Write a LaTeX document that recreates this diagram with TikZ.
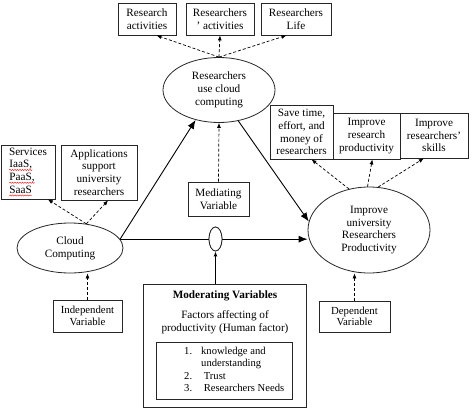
\documentclass[tikz,border=0pt]{standalone}
\usepackage{fontspec}
\setmainfont{Liberation Serif}
\usetikzlibrary{shapes.geometric, arrows.meta, decorations.pathmorphing}
\newcommand{\redwave}[1]{\tikz[baseline=(w.base), x=1pt, y=1pt]{%
  \node [inner sep=0pt, minimum width=0pt, minimum height=0pt, draw=none, fill=none, rectangle] (w) {#1};
  \draw [red, line width=0.4pt, solid, decorate, decoration={snake, amplitude=0.6pt, segment length=2.5pt}]
    ([yshift=-2pt]w.base west) -- ([yshift=-2pt]w.base east);}}

\begin{document}
\begin{tikzpicture}[x=1pt, y=-1pt,
    every node/.style={font=\fontsize{11.2}{12.8}\selectfont, inner sep=1pt},
    box/.style={draw=black!85, line width=0.8pt, rectangle, align=center},
    ell/.style={draw=black!85, line width=0.8pt, ellipse, align=center, fill=white},
    dasharrow/.style={dash pattern=on 3pt off 2pt, line width=0.7pt, -{Latex[length=5pt,width=4pt]}},
    solidarrow/.style={line width=0.9pt, -{Latex[length=9pt,width=7pt]}}]
  \useasboundingbox (0,0) rectangle (474,410);
  % top boxes
  \node [box, minimum width=58pt, minimum height=32pt] (ra) at (147,19) {Research\\activities};
  \node [box, minimum width=68pt, minimum height=32pt] (rb) at (220,19) {Researchers\\' activities};
  \node [box, minimum width=70pt, minimum height=32pt] (rl) at (296,19) {Researchers\\Life};
  \node [ell, minimum width=112pt, minimum height=65pt] (ruc) at (219,90) {Researchers\\use cloud\\computing};
  % right boxes
  \node [box, minimum width=63pt, minimum height=54pt] (save) at (301.5,132) {Save time,\\effort, and\\money of\\researchers};
  \node [box, minimum width=67pt, minimum height=46pt] (irp) at (366.5,136) {Improve\\research\\productivity};
  \node [box, minimum width=68pt, minimum height=45pt] (irs) at (434,135.5) {Improve\\researchers'\\skills};
  \node [ell, minimum width=122pt, minimum height=86pt] (iurp) at (369,230) {Improve\\university\\Researchers\\Productivity};
  % left boxes
  \node [box, minimum width=54pt, minimum height=54pt, align=left] (serv) at (28,172)
    {Services\\\redwave{IaaS,}\\\redwave{PaaS,}\\\redwave{SaaS}};
  \node [box, minimum width=76pt, minimum height=55pt] (app) at (99,172.5) {Applications\\support\\university\\researchers};
  \node [ell, minimum width=106pt, minimum height=50pt] (cloud) at (70,248) {Cloud\\Computing};
  % mediating and moderating
  \node [box, minimum width=61pt, minimum height=34pt] (med) at (218.5,199) {Mediating\\Variable};
  \node [ell, minimum width=13pt, minimum height=24pt, inner sep=0pt] (mod) at (215.5,239) {};
  \node [box, minimum width=163pt, minimum height=123pt] (modbox) at (224.5,345.5) {};
  \node [font=\fontsize{11.2}{12.8}\selectfont\bfseries] (modtitle) at (225,296) {Moderating Variables};
  \node [align=center] (factors) at (225,322) {Factors affecting of\\productivity (Human factor)};
  \node [box, minimum width=136pt, minimum height=57pt] (list) at (224,370.5) {};
  \node [anchor=north west, inner sep=0pt, font=\fontsize{10.6}{12.4}\selectfont] (items) at (184,345.5)
    {\setlength{\tabcolsep}{0pt}\renewcommand{\arraystretch}{1}%
     \begin{tabular}{@{}p{17pt}l@{}}
       1. & knowledge and\\
          & understanding\\
       2. & \ Trust\\
       3. & \ Researchers Needs
     \end{tabular}};
  % bottom boxes
  \node [box, minimum width=69pt, minimum height=32pt, font=\fontsize{10.8}{11.5}\selectfont] (ind) at (87.5,316) {Independent\\Variable};
  \node [box, minimum width=71pt, minimum height=31pt, font=\fontsize{10.8}{11.5}\selectfont] (dep) at (354.5,316.5) {Dependent\\Variable};
  % dashed connectors
  \draw [dasharrow] (ruc.north) -- (ra.-60);
  \draw [dasharrow] (ruc.north) -- (rb.south);
  \draw [dasharrow] (ruc.north) -- (rl.-120);
  \draw [dasharrow] (iurp.116) -- (save.-70);
  \draw [dasharrow] (iurp.92) -- (irp.-76);
  \draw [dasharrow] (iurp.78) -- (irs.-114);
  \draw [dasharrow] (cloud.56) -- (serv.-54);
  \draw [dasharrow] (cloud.56) -- (app.-72);
  \draw [dasharrow] (med.north) -- (ruc.south);
  \draw [dasharrow] (ind.north) -- (ind.north |- cloud.south);
  \draw [dasharrow] (dep.north) -- (dep.north |- iurp.south);
  % solid connectors
  \draw [solidarrow] (cloud.10) -- (ruc.232);
  \draw [solidarrow] (ruc.302) -- (iurp.172);
  \draw [solidarrow] (cloud.10) -- (cloud.10 -| iurp.west);
  \node [ell, minimum width=13pt, minimum height=24pt, inner sep=0pt] at (mod) {};
  \draw [solidarrow, -{Latex[length=5pt,width=4pt]}] (modbox.north -| mod.south) -- (mod.south);
\end{tikzpicture}
\end{document}
